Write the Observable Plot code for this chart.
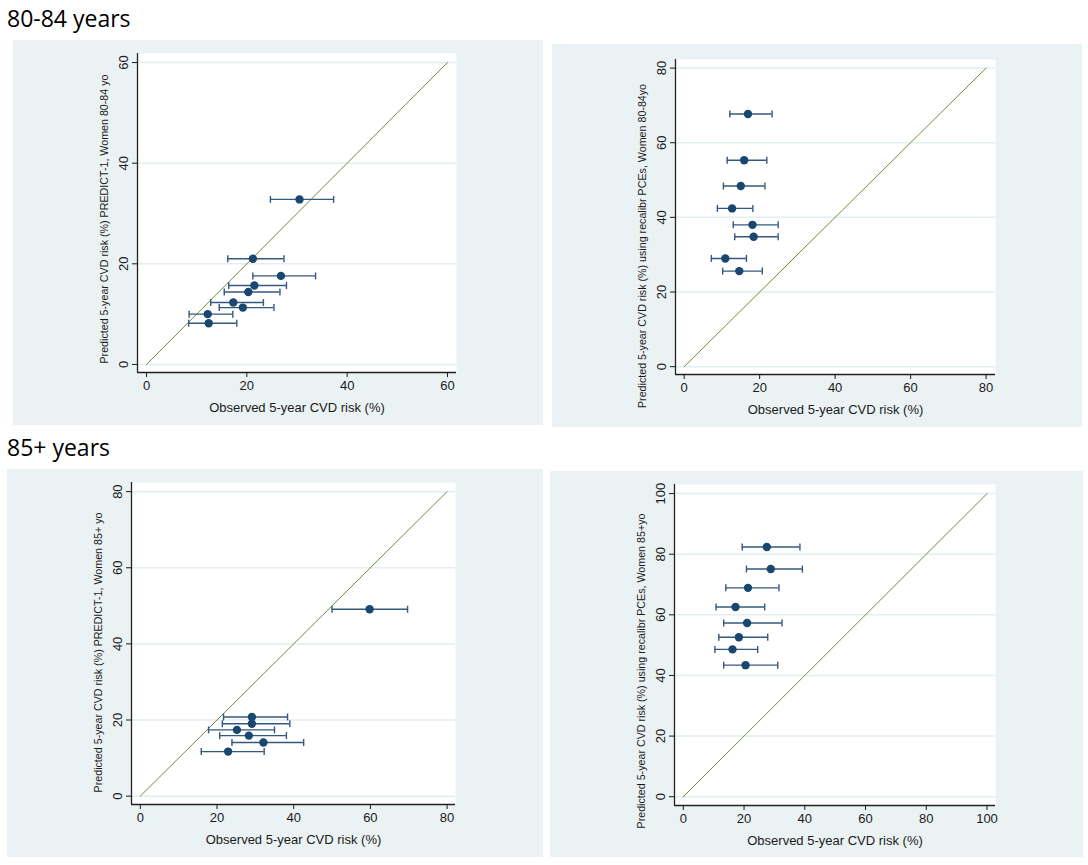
<!DOCTYPE html>
<html><head><meta charset="utf-8">
<script src="https://cdn.jsdelivr.net/npm/d3@7"></script>
<script src="https://cdn.jsdelivr.net/npm/@observablehq/plot@0.6"></script>
<style>
html,body{margin:0;padding:0;background:#fff;}
body{width:1088px;height:865px;position:relative;overflow:hidden;}
.title{position:absolute;font-family:"Open Sans",sans-serif;font-size:23px;color:#000;line-height:1;white-space:nowrap;}
.panel{position:absolute;background:#eaf2f3;}
.panel svg{display:block;}
</style></head><body>
<div class="title" style="left:7px;top:7px">80-84 years</div>
<div class="title" style="left:7px;top:436px">85+ years</div>
<div class="panel" id="pA" style="left:13px;top:40px;width:530px;height:385px"></div>
<div class="panel" id="pB" style="left:552px;top:44px;width:530px;height:383px"></div>
<div class="panel" id="pC" style="left:7px;top:469px;width:536px;height:388px"></div>
<div class="panel" id="pD" style="left:550px;top:471px;width:533px;height:386px"></div>
<script>
// ---- Data ----
// Panel A: PREDICT-1, Women 80-84
const obsA   = [30.5, 21.2, 26.8, 21.5, 20.3, 17.3, 19.2, 12.2, 12.4];
const obsLoA = [24.7, 16.2, 21.2, 16.4, 15.5, 12.8, 14.5,  8.5,  8.4];
const obsHiA = [37.3, 27.4, 33.7, 27.9, 26.6, 23.3, 25.4, 17.2, 18.0];
const predA  = [32.8, 21.0, 17.6, 15.7, 14.4, 12.3, 11.3, 10.0,  8.2];
const ticksA = [0, 20, 40, 60];
const diagA  = [0, 60];

// Panel B: recalibrated PCEs, Women 80-84
const obsB   = [16.9, 15.9, 15.0, 12.7, 18.1, 18.4, 10.9, 14.6];
const obsLoB = [12.1, 11.4, 10.4,  8.8, 13.0, 13.4,  7.2, 10.2];
const obsHiB = [23.3, 21.9, 21.4, 18.2, 24.9, 24.9, 16.5, 20.7];
const predB  = [67.7, 55.3, 48.4, 42.4, 38.0, 34.8, 29.0, 25.6];
const ticksB = [0, 20, 40, 60, 80];
const diagB  = [0, 80];

// Panel C: PREDICT-1, Women 85+
const obsC   = [59.8, 29.1, 29.1, 25.2, 28.3, 32.1, 22.9];
const obsLoC = [50.0, 21.7, 21.4, 17.8, 20.7, 23.9, 15.9];
const obsHiC = [69.7, 38.4, 39.0, 35.0, 38.1, 42.6, 32.3];
const predC  = [49.1, 20.8, 19.0, 17.4, 15.9, 14.1, 11.7];
const ticksC = [0, 20, 40, 60, 80];
const diagC  = [0, 80];

// Panel D: recalibrated PCEs, Women 85+
const obsD   = [27.5, 28.8, 21.3, 17.2, 21.0, 18.3, 16.2, 20.5];
const obsLoD = [19.4, 20.8, 14.0, 10.8, 13.3, 11.7, 10.4, 13.3];
const obsHiD = [38.4, 39.2, 31.5, 26.8, 32.5, 27.8, 24.5, 31.1];
const predD  = [82.4, 75.1, 68.9, 62.6, 57.3, 52.6, 48.6, 43.4];
const ticksD = [0, 20, 40, 60, 80, 100];
const diagD  = [0, 100];

const xLabel = "Observed 5-year CVD risk (%)";
const yLabelA = "Predicted 5-year CVD risk (%) PREDICT-1, Women 80-84 yo";
const yLabelB = "Predicted 5-year CVD risk (%) using recalibr PCEs, Women 80-84yo";
const yLabelC = "Predicted 5-year CVD risk (%) PREDICT-1, Women 85+ yo";
const yLabelD = "Predicted 5-year CVD risk (%) using recalibr PCEs, Women 85+yo";

// ---- Styling ----
const NAVY = "#1a476f";
const BAR = "#34597f";
const capSymbol = {draw(ctx, size) { const r = Math.sqrt(size / Math.PI); ctx.moveTo(0, -r); ctx.lineTo(0, r); }};

function makePanel(el, cfg) {
  const rows = cfg.obs.map((o, i) => ({o, lo: cfg.lo[i], hi: cfg.hi[i], p: cfg.pred[i]}));
  const chart = Plot.plot({
    width: cfg.width, height: cfg.height,
    marginLeft: cfg.m[0], marginRight: cfg.m[1], marginTop: cfg.m[2], marginBottom: cfg.m[3],
    style: {background: "transparent", fontFamily: "'Liberation Sans', Arial, sans-serif", fontSize: "12px", color: "#1a1a1a", overflow: "visible"},
    x: {type: "linear", domain: cfg.xDomain},
    y: {type: "linear", domain: cfg.yDomain},
    marks: [
      Plot.frame({fill: "white", stroke: null}),
      Plot.gridY(cfg.ticks, {stroke: "#e4eef0", strokeOpacity: 1, strokeWidth: 1.5}),
      Plot.line(cfg.diag, {x: d => d, y: d => d, stroke: "#6e8b3d", strokeWidth: 1}),
      Plot.ruleY(rows, {y: "p", x1: "lo", x2: "hi", stroke: BAR, strokeWidth: 1.4}),
      Plot.dot(rows, {x: "lo", y: "p", symbol: capSymbol, r: 3.5, stroke: BAR, strokeWidth: 1.4, fill: "none"}),
      Plot.dot(rows, {x: "hi", y: "p", symbol: capSymbol, r: 3.5, stroke: BAR, strokeWidth: 1.4, fill: "none"}),
      Plot.dot(rows, {x: "o", y: "p", r: 4.2, fill: NAVY, stroke: null}),
      Plot.ruleX([cfg.xDomain[0]], {stroke: "#222", strokeWidth: 1.3}),
      Plot.ruleY([cfg.yDomain[0]], {stroke: "#222", strokeWidth: 1.3}),
      Plot.axisX(cfg.xTicks, {tickSize: 5, tickPadding: 3, fontSize: 13, label: xLabel, labelAnchor: "center", labelArrow: "none", labelOffset: 39}),
      Plot.axisY(cfg.ticks, {tickSize: 5, tickPadding: 5, fontSize: 13, tickRotate: -90, textAnchor: "middle", lineAnchor: "bottom", label: null}),
      Plot.text([cfg.yLabel], {text: d => d, frameAnchor: "left", rotate: -90, dx: -33, dy: cfg.yLabelShift,
        textAnchor: "middle", lineAnchor: "middle", fontSize: 10.7, fill: "#1a1a1a"})
    ]
  });
  document.getElementById(el).appendChild(chart);
}

makePanel("pA", {obs: obsA, lo: obsLoA, hi: obsHiA, pred: predA, ticks: ticksA, xTicks: ticksA, diag: diagA,
  xDomain: [-1.8, 61.8], yDomain: [-1.6, 61.8], yLabel: yLabelA, yLabelShift: 6, width: 530, height: 385, m: [124, 87, 13, 53]});
makePanel("pB", {obs: obsB, lo: obsLoB, hi: obsHiB, pred: predB, ticks: ticksB, xTicks: ticksB, diag: diagB,
  xDomain: [-2.3, 82.5], yDomain: [-2.1, 82.3], yLabel: yLabelB, yLabelShift: 29, width: 530, height: 383, m: [123, 87, 15, 53]});
makePanel("pC", {obs: obsC, lo: obsLoC, hi: obsHiC, pred: predC, ticks: ticksC, xTicks: ticksC, diag: diagC,
  xDomain: [-2.3, 82.2], yDomain: [-2.2, 82.4], yLabel: yLabelC, yLabelShift: 9, width: 536, height: 388, m: [124, 88, 13, 53]});
makePanel("pD", {obs: obsD, lo: obsLoD, hi: obsHiD, pred: predD, ticks: ticksD, xTicks: ticksD, diag: diagD,
  xDomain: [-2.9, 102.8], yDomain: [-2.9, 103], yLabel: yLabelD, yLabelShift: 26, width: 533, height: 386, m: [124, 88, 13, 52]});
</script>
</body></html>
